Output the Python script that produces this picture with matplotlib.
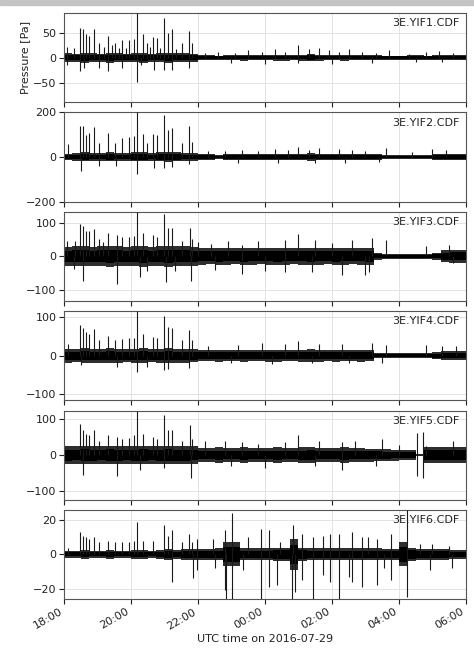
# plot_pressure_panels.py
# 6개 관측소 압력 파형을 세로로 쌓아 그리는 스크립트

import numpy as np
import matplotlib
matplotlib.use("Agg")
import matplotlib.pyplot as plt

# --- 데이터 (그림에서 읽은 값, 시간은 18:00 기준 경과 시간[h]) ---
stations = ["3E.YIF1.CDF", "3E.YIF2.CDF", "3E.YIF3.CDF",
            "3E.YIF4.CDF", "3E.YIF5.CDF", "3E.YIF6.CDF"]
ylims = [89, 200, 133, 115, 123, 26]
yticks = [[-50, 0, 50], [-200, 0, 200], [-100, 0, 100],
          [-100, 0, 100], [-100, 0, 100], [-20, 0, 20]]
hour_ticks = [0, 2, 4, 6, 8, 10, 12]
hour_labels = ["18:00", "20:00", "22:00", "00:00", "02:00", "04:00", "06:00"]

# 15분 간격 배경 진폭 (48개)
core1 = [9, 8, 10, 9, 8, 10, 9, 8, 9, 10, 8, 9, 10, 9, 9, 8,
         5, 5, 4, 5, 5, 6, 5, 5, 5, 6, 6, 5, 6, 7, 6, 5,
         5, 6, 5, 5, 5, 5, 4, 4, 4, 5, 5, 4, 5, 5, 5, 5]
core2 = [15, 18, 20, 18, 18, 20, 18, 17, 20, 20, 18, 20, 22, 20, 18, 18,
         12, 12, 10, 12, 12, 14, 13, 12, 13, 14, 15, 14, 15, 16, 14, 13,
         14, 15, 13, 12, 12, 12, 8, 8, 8, 10, 10, 10, 12, 12, 12, 12]
core3 = [28, 30, 30, 28, 30, 32, 30, 28, 30, 32, 28, 30, 32, 30, 30, 28,
         25, 24, 26, 25, 24, 26, 25, 24, 25, 26, 25, 24, 25, 26, 25, 24,
         26, 25, 24, 25, 26, 10, 8, 8, 8, 8, 8, 8, 10, 18, 20, 20]
core4 = [18, 17, 19, 18, 18, 19, 18, 17, 18, 19, 17, 18, 19, 18, 18, 17,
         14, 14, 15, 14, 14, 15, 14, 14, 15, 15, 14, 14, 15, 16, 15, 14,
         15, 14, 14, 15, 14, 7, 6, 6, 6, 6, 6, 7, 9, 12, 12, 12]
core5 = [25, 24, 26, 25, 24, 26, 25, 24, 25, 26, 24, 25, 26, 25, 25, 24,
         20, 20, 21, 20, 20, 21, 20, 19, 20, 21, 20, 20, 21, 22, 20, 20,
         20, 21, 20, 19, 18, 17, 16, 15, 14, 14, 1, 22, 22, 23, 22, 22]
core6 = [2, 2, 2.5, 2, 2, 2.5, 2, 2, 2.5, 2.5, 2, 2.5, 3, 2.5, 3, 3,
         3, 3, 3.5, 7, 7, 3.5, 3.5, 3.5, 3.5, 4, 4, 9, 4, 3.5, 3.5, 3.5,
         3.5, 3.5, 3.5, 3.5, 3.5, 3.5, 3, 3, 7, 4, 3, 3, 3, 3, 2.5, 2.5]

# 개별 스파이크 (시간, 값)
spikes1 = [(0.1, 22), (0.3, 20), (0.48, 60), (0.56, 57), (0.66, 47), (0.76, 44),
           (0.9, 57), (1.06, 30), (1.18, 22), (1.31, 43), (1.42, 25), (1.52, 30),
           (1.63, 20), (1.73, 35), (1.85, 20), (1.95, 36), (2.09, 38), (2.17, 89),
           (2.37, 47), (2.47, 30), (2.58, 22), (2.67, 41), (2.77, 40), (2.88, 20),
           (2.99, 79), (3.12, 50), (3.23, 57), (3.35, 18), (3.52, 30), (3.73, 53),
           (3.81, 30), (4.2, 10), (4.6, 12), (5.1, 10), (5.5, 15), (5.9, 12),
           (6.3, 17), (6.6, 12), (7.0, 25), (7.3, 18), (7.6, 20), (7.9, 15),
           (8.2, 12), (8.5, 18), (8.9, 12), (9.3, 10), (9.7, 15), (10.3, 8),
           (10.8, 12), (11.2, 14), (11.6, 10),
           (0.1, -15), (0.48, -27), (0.6, -20), (1.06, -20), (1.31, -27),
           (1.73, -20), (2.17, -49), (2.3, -15), (2.7, -25), (2.99, -24),
           (3.23, -24), (3.73, -20), (5.0, -10), (6.0, -12), (7.0, -10),
           (8.0, -12), (9.2, -10), (10.5, -8), (11.3, -8)]
spikes2 = [(0.12, 58), (0.48, 141), (0.56, 138), (0.66, 100), (0.76, 108),
           (0.9, 134), (1.06, 61), (1.31, 108), (1.52, 61), (1.73, 85), (1.95, 89),
           (2.09, 92), (2.17, 200), (2.37, 101), (2.47, 61), (2.67, 101), (2.77, 97),
           (2.99, 189), (3.12, 123), (3.23, 129), (3.52, 61), (3.73, 138), (3.81, 69),
           (4.3, 25), (4.8, 28), (5.3, 30), (5.8, 25), (6.3, 35), (6.7, 30),
           (7.0, 45), (7.3, 30), (7.6, 40), (8.2, 35), (8.6, 30), (9.0, 28),
           (9.6, 40), (10.4, 20), (11.0, 35), (11.4, 30),
           (0.5, -62), (1.06, -40), (1.55, -40), (2.17, -77), (2.7, -50),
           (2.99, -48), (3.23, -45), (3.73, -30), (5.2, -25), (6.4, -25),
           (7.5, -28), (8.4, -25), (9.4, -22)]
spikes3 = [(0.08, 46), (0.33, 46), (0.48, 95), (0.56, 90), (0.66, 75), (0.76, 75),
           (0.9, 82), (1.05, 51), (1.16, 42), (1.31, 70), (1.59, 65), (1.73, 57),
           (1.95, 58), (2.09, 60), (2.17, 133), (2.37, 70), (2.67, 63), (2.77, 58),
           (2.99, 125), (3.12, 85), (3.23, 85), (3.52, 45), (3.75, 85), (3.81, 52),
           (4.0, 42), (4.4, 38), (4.9, 45), (5.3, 35), (5.8, 45), (6.6, 50),
           (7.0, 68), (7.5, 48), (8.0, 40), (8.6, 50), (9.2, 55), (9.6, 50),
           (10.8, 30), (11.5, 35),
           (0.3, -38), (0.56, -75), (1.59, -83), (2.27, -62), (2.47, -45),
           (3.05, -77), (3.3, -45), (3.78, -75), (4.5, -40), (5.3, -52), (6.0, -45),
           (6.6, -48), (7.4, -48), (8.3, -55), (9.0, -55), (9.1, -48), (11.6, -20)]
spikes4 = [(0.12, 30), (0.48, 80), (0.56, 72), (0.66, 60), (0.76, 55), (0.9, 68),
           (1.06, 40), (1.31, 52), (1.52, 40), (1.73, 42), (1.95, 45), (2.09, 45),
           (2.17, 115), (2.37, 55), (2.67, 48), (2.77, 45), (2.99, 103), (3.12, 75),
           (3.23, 72), (3.52, 40), (3.73, 67), (3.81, 40), (4.3, 25), (5.2, 28),
           (5.9, 32), (6.6, 30), (7.0, 38), (7.6, 30), (8.3, 30), (9.2, 33),
           (9.6, 28), (10.8, 28), (11.3, 25), (11.7, 25),
           (0.5, -25), (1.59, -30), (2.17, -42), (2.47, -30), (2.99, -38),
           (3.12, -35), (3.73, -32), (5.0, -20), (6.2, -22), (7.4, -20),
           (8.5, -20), (9.5, -18)]
spikes5 = [(0.48, 85), (0.56, 70), (0.66, 58), (0.76, 55), (0.9, 70), (1.06, 40),
           (1.31, 55), (1.59, 50), (1.73, 45), (1.95, 48), (2.09, 55), (2.17, 123),
           (2.37, 58), (2.67, 50), (2.77, 45), (2.99, 110), (3.12, 70), (3.23, 70),
           (3.52, 40), (3.75, 82), (3.81, 45), (4.2, 38), (4.8, 40), (5.3, 35),
           (5.8, 30), (6.6, 35), (7.0, 55), (7.6, 40), (8.3, 35), (8.7, 40),
           (9.5, 45), (10.0, 28), (10.54, 62), (10.72, 63), (10.8, 25), (11.6, 40),
           (0.56, -55), (1.59, -58), (2.27, -42), (2.99, -35), (3.78, -62),
           (5.0, -30), (6.0, -35), (7.5, -30), (8.3, -40), (9.3, -30),
           (10.54, -58), (10.72, -63)]
spikes6 = [(0.12, 4), (0.48, 13), (0.56, 11), (0.66, 10), (0.76, 9), (0.9, 10),
           (1.06, 7), (1.31, 8), (1.52, 7), (1.73, 7), (1.95, 7), (2.09, 8),
           (2.17, 19), (2.37, 8), (2.67, 8), (2.99, 17), (3.12, 11), (3.23, 14),
           (3.52, 7), (3.73, 12), (3.81, 7), (3.96, 9), (4.46, 9), (4.81, 14),
           (5.03, 24), (5.5, 10), (5.87, 15), (6.12, 14), (6.46, 7), (6.84, 17),
           (7.1, 12), (7.44, 10), (7.74, 11), (7.94, 12), (8.22, 12), (8.59, 13),
           (8.89, 10), (9.09, 10), (9.34, 9), (9.77, 12), (10.24, 26), (10.63, 6),
           (11.0, 6), (11.5, 5),
           (3.22, -16), (3.86, -14), (3.96, -9), (4.5, -8), (4.81, -21),
           (4.85, -26), (5.03, -26), (5.35, -9), (5.87, -26), (6.12, -19),
           (6.35, -18), (6.8, -26), (6.9, -22), (7.12, -15), (7.44, -26),
           (7.74, -12), (7.94, -16), (8.22, -26), (8.5, -13), (8.59, -16),
           (8.89, -19), (9.34, -18), (9.54, -8), (9.77, -15), (10.24, -25),
           (10.94, -9), (11.58, -8)]

cores = [core1, core2, core3, core4, core5, core6]
spike_sets = [spikes1, spikes2, spikes3, spikes4, spikes5, spikes6]


# --- 그리기 ---
def plot_panels():
    plt.rcParams['font.family'] = 'DejaVu Sans'
    fig, axes = plt.subplots(6, 1, figsize=(4.74, 6.71), dpi=100, sharex=True)
    fig.subplots_adjust(left=0.135, right=0.983, top=0.9806, bottom=0.1073,
                        hspace=0.115)

    # 원본 상단의 회색 띠
    fig.patches.append(plt.Rectangle((0, 0.993), 1, 0.007, transform=fig.transFigure,
                                     color='#c4c4c4', zorder=0))

    edges = np.arange(49) * 0.25
    for i, ax in enumerate(axes):
        core = np.array(cores[i] + [cores[i][-1]], dtype=float)
        # 바깥쪽 진회색 띠 + 안쪽 검은 띠
        ax.fill_between(edges, -core, core, step='post', color='#2e2e2e', lw=0,
                        zorder=2)
        ax.fill_between(edges, -0.6 * core, 0.6 * core, step='post', color='black',
                        lw=0, zorder=2)
        t = [s[0] for s in spike_sets[i]]
        v = [s[1] for s in spike_sets[i]]
        ax.vlines(t, 0, v, color='#1a1a1a', lw=0.8, zorder=3)
        ax.axhline(0, color='black', lw=1.2, zorder=2)

        ax.set_xlim(0, 12)
        ax.set_ylim(-ylims[i], ylims[i])
        ax.set_yticks(yticks[i])
        ax.set_xticks(hour_ticks)
        ax.grid(True, color='#e3e3e3', lw=0.7, zorder=0)
        ax.set_axisbelow(True)
        for sp in ax.spines.values():
            sp.set_color('#555555')
            sp.set_linewidth(0.8)
        ax.tick_params(axis='both', labelsize=8, colors='#222222', length=3.5,
                       width=0.8, direction='out', pad=2)
        ax.tick_params(axis='x', labelbottom=(i == 5))
        ax.text(0.985, 0.94, stations[i], transform=ax.transAxes, ha='right',
                va='top', fontsize=8, color='#222222', zorder=5)

    axes[0].set_ylabel('Pressure [Pa]', fontsize=8, color='#222222', labelpad=2)
    axes[-1].set_xticklabels(hour_labels, rotation=30, ha='right')
    axes[-1].set_xlabel('UTC time on 2016-07-29', fontsize=8, color='#222222',
                        labelpad=2)

    fig.savefig('out.png', dpi=100)


if __name__ == "__main__":
    plot_panels()
